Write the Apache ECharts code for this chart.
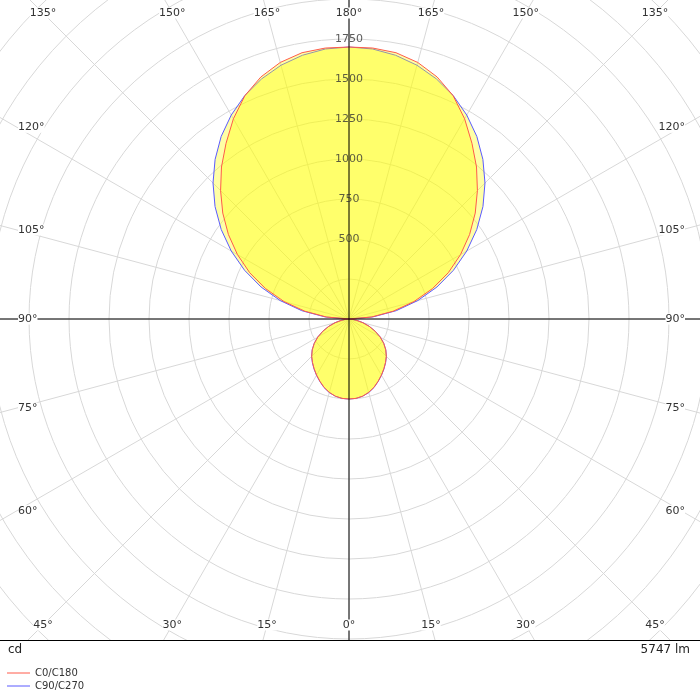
<!DOCTYPE html>
<html><head><meta charset="utf-8">
<script src="https://cdn.jsdelivr.net/npm/echarts@6/dist/echarts.min.js"></script>
<style>html,body{margin:0;padding:0;background:#fff}#c{width:700px;height:700px}</style>
</head><body><div id="c"></div>
<script>
const gammaUpper=[90,95,100,105,110,115,120,125,130,135,140,145,150,155,160,165,170,175,180];
const c0Upper=[0,140,280,420,555,685,805,920,1030,1135,1240,1340,1445,1540,1610,1660,1690,1700,1700];
const c90Upper=[0,150,300,445,585,720,850,975,1093,1202,1302,1393,1472,1541,1597,1642,1674,1694,1700];
const gammaLower=[0,5,10,15,20,25,30,35,40,45,50,55,60,65,70,75,80,85,90];
const c0Lower=[500,498,490,475,455,430,405,380,355,330,300,265,225,180,135,90,50,20,0];
const c90Lower=[500,498,490,476,456,431,406,381,356,330,300,265,225,180,135,90,50,20,0];
const radialTicks=[500,750,1000,1250,1500,1750];
const angleTicks=[0,15,30,45,60,75,90,105,120,135,150,165,180];
const seriesNames=['C0/C180','C90/C270'];
const lumen='5747 lm', unit='cd';

const cx=349, cy=319, pxPerCd=0.16, rMax=3000;
function loop(lowV,upV){
  const g=gammaLower.concat(gammaUpper.slice(1)), v=lowV.concat(upV.slice(1));
  const pts=[];
  for(let i=0;i<g.length;i++) pts.push([v[i],g[i]]);
  for(let i=g.length-1;i>=0;i--) pts.push([v[i],360-g[i]]);
  return pts;
}
const graphics=[];
// crosshair
graphics.push({type:'line',shape:{x1:0,y1:cy,x2:700,y2:cy},style:{stroke:'#000',lineWidth:1},z:50});
graphics.push({type:'line',shape:{x1:cx,y1:0,x2:cx,y2:640},style:{stroke:'#000',lineWidth:1},z:50});
// bottom cover and legend
graphics.push({type:'rect',shape:{x:0,y:640,width:700,height:60},style:{fill:'#fff'},z:100});
graphics.push({type:'line',shape:{x1:0,y1:640.5,x2:700,y2:640.5},style:{stroke:'#000',lineWidth:1},z:101});
graphics.push({type:'text',style:{text:unit,x:8,y:650,font:'12px "DejaVu Sans"',fill:'#222',textVerticalAlign:'middle'},z:101});
graphics.push({type:'text',style:{text:lumen,x:690,y:650,font:'12px "DejaVu Sans"',fill:'#222',textAlign:'right',textVerticalAlign:'middle'},z:101});
const cols=['#ff5a4a','#5a5aff'];
seriesNames.forEach((n,i)=>{
  const y=673+i*13;
  graphics.push({type:'line',shape:{x1:7,y1:y,x2:30,y2:y},style:{stroke:cols[i],lineWidth:1},z:101});
  graphics.push({type:'text',style:{text:n,x:35,y:y,font:'10px "DejaVu Sans"',fill:'#333',textVerticalAlign:'middle'},z:101});
});
// angle labels at frame edges
const hw=332, hh=306;
angleTicks.forEach(a=>{
  [1,-1].forEach(s=>{
    if((a===0||a===180)&&s<0) return;
    const th=a*Math.PI/180;
    const dx=s*Math.sin(th), dy=Math.cos(th);
    let t=Math.min(dx!==0?hw/Math.abs(dx):1e9, dy!==0?hh/Math.abs(dy):1e9);
    let x=cx+dx*t, y=cy+dy*t;
    if(Math.abs(dy*t)>=hh-0.5){x=cx+dx*t; } else { x = s>0?685:18; }
    graphics.push({type:'text',style:{text:a+'°',x:x,y:y,font:'11px "DejaVu Sans"',fill:'#333',textAlign:(Math.abs(dy*t)>=hh-0.5)?'center':(s>0?'right':'left'),textVerticalAlign:'middle',backgroundColor:'#fff'},z:60});
  });
});
const chart=echarts.init(document.getElementById('c'));
chart.setOption({
  animation:false,
  polar:{center:[cx,cy],radius:rMax*pxPerCd},
  angleAxis:{type:'value',min:0,max:360,interval:15,startAngle:270,clockwise:true,
    axisLine:{show:false},axisTick:{show:false},axisLabel:{show:false},
    splitLine:{lineStyle:{color:'#d8d8d8',width:1}}},
  radiusAxis:{type:'value',min:0,max:rMax,interval:250,
    axisLine:{show:false},axisTick:{show:false},axisLabel:{show:false},
    splitLine:{lineStyle:{color:'#d8d8d8',width:1}}},
  series:[
    {type:'line',coordinateSystem:'polar',name:seriesNames[1],data:loop(c90Lower,c90Upper),symbol:'none',
      lineStyle:{color:cols[1],width:1},areaStyle:{color:'rgba(255,255,0,0.5)',origin:'start'},z:3},
    {type:'line',coordinateSystem:'polar',name:seriesNames[0],data:loop(c0Lower,c0Upper),symbol:'none',
      lineStyle:{color:cols[0],width:1},areaStyle:{color:'rgba(255,255,0,0.5)',origin:'start'},z:4},
    {type:'scatter',coordinateSystem:'polar',data:radialTicks.map(r=>[r,180]),symbolSize:0,z:60,
      label:{show:true,formatter:p=>String(p.value[0]),position:'inside',fontSize:11,fontFamily:'DejaVu Sans',color:'#333',
        backgroundColor:'rgba(255,255,255,0)'}}
  ],
  graphic:graphics
});
</script></body></html>
